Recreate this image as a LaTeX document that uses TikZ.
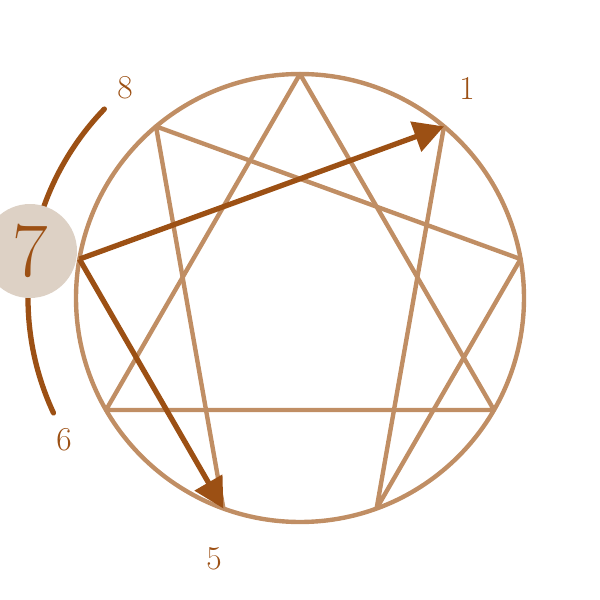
\documentclass[tikz,border=0pt]{standalone}
\usetikzlibrary{arrows.meta, calc}
\definecolor{ring}{HTML}{C08E64}
\definecolor{rust}{HTML}{9C5014}
\definecolor{blob}{HTML}{DDD1C5}
\begin{document}
\begin{tikzpicture}[
            x = 0.02cm, y = 0.02cm, % one unit per pixel
            > = {Triangle[length = 0.6cm, width = 0.62cm]}, % arrow head style
            line join = round
        ]

        \tikzstyle{figure}=[
            draw = ring,
            line width = 2.5pt
        ]
        \tikzstyle{move}=[
            draw = rust,
            line width = 3pt
        ]
        \tikzstyle{digit}=[
            text = rust,
            font = \fontsize{19}{19}\selectfont
        ]

        \useasboundingbox (0,0) rectangle (600,600);
        \coordinate (c) at (300,302);
        \foreach \n in {1,...,9}
            \coordinate (p\n) at ($(c)+({90-40*\n}:224)$);

        \draw[figure] (c) circle (224);
        \draw[figure] (p9) -- (p3) -- (p6) -- cycle;
        \draw[figure] (p1) -- (p4) -- (p2) -- (p8) -- (p5);

        \draw[move, ->] (p7) -- (p1);
        \draw[move, ->] (p7) -- (p5);

        % arc through the wings of 7
        \draw[move, line cap = round] ($(c)+(136:272)$) arc[start angle = 136, end angle = 205, radius = 272];
        \node[circle, fill = blob, minimum size = 1.88cm, inner sep = 0pt, text = rust, font = \fontsize{44}{44}\selectfont] (seven) at (30,349) {7};

        \node[digit] (l8) at (125,512) {8};
        \node[digit] (l1) at (467,512) {1};
        \node[digit] (l6) at (64,160) {6};
        \node[digit] (l5) at (214,41) {5};
    \end{tikzpicture}
\end{document}
